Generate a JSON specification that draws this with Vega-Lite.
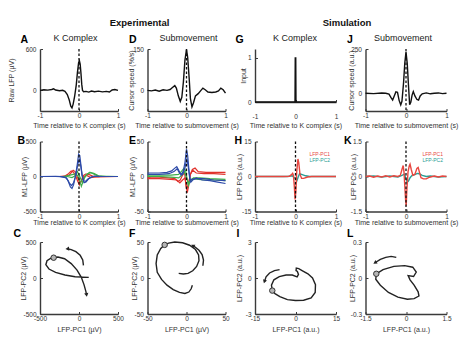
{
"$schema": "https://vega.github.io/schema/vega-lite/v6.json",
"padding": {"left": 7, "top": 17, "right": 4, "bottom": 4},
"background": "white",
"columns": 4,
"spacing": {"row": 30.5, "column": 29.5},
"bounds": "flush",
"align": "each",
"resolve": {"scale": {"color": "independent"}},
"config": {
  "font": "Liberation Sans",
  "view": {"stroke": null},
  "axis": {"grid": false, "domainColor": "#3a3a3a", "domainWidth": 1.4, "tickColor": "#3a3a3a", "tickWidth": 1, "tickSize": -2.5, "labelFont": "Liberation Sans", "labelFontSize": 6.5, "labelColor": "#333", "titleFont": "Liberation Sans", "titleFontSize": 7, "titleFontWeight": "normal", "titleColor": "#333", "labelExpr": "'' + datum.value", "labelOverlap": false, "labelFlush": false},
  "axisLeft": {"labelPadding": 6.5, "minExtent": 8, "maxExtent": 8},
  "axisBottom": {"labelPadding": 4, "titlePadding": 2},
  "axisTop": {"domain": false, "ticks": false, "labels": false, "titleFontSize": 10.5, "titleFontWeight": "bold", "titleColor": "#000", "titleAlign": "left", "titleBaseline": "alphabetic", "titleAngle": 0},
  "axisRight": {"domain": false, "ticks": false, "labels": false, "titleFontSize": 9, "titleFontWeight": "normal", "titleColor": "#222", "titleAngle": 0, "titleAlign": "center", "titleBaseline": "alphabetic"},
  "title": {"font": "Liberation Sans", "fontSize": 9.5, "fontWeight": "bold", "color": "#111"}
},
"datasets": {
  "zero": [{"t": 0}],
  "A": [{"t":-1,"v":0},{"t":-0.9,"v":8},{"t":-0.8,"v":3},{"t":-0.7,"v":12},{"t":-0.65,"v":22},{"t":-0.6,"v":5},{"t":-0.5,"v":-5},{"t":-0.42,"v":0},{"t":-0.36,"v":-15},{"t":-0.3,"v":-60},{"t":-0.25,"v":-140},{"t":-0.21,"v":-230},{"t":-0.18,"v":-255},{"t":-0.15,"v":-200},{"t":-0.11,"v":-80},{"t":-0.07,"v":80},{"t":-0.04,"v":260},{"t":-0.01,"v":400},{"t":0.01,"v":430},{"t":0.03,"v":380},{"t":0.05,"v":250},{"t":0.07,"v":90},{"t":0.09,"v":0},{"t":0.12,"v":-20},{"t":0.18,"v":-15},{"t":0.25,"v":-25},{"t":0.32,"v":-10},{"t":0.4,"v":-20},{"t":0.5,"v":-12},{"t":0.6,"v":-22},{"t":0.7,"v":-15},{"t":0.78,"v":-25},{"t":0.85,"v":5},{"t":0.92,"v":12},{"t":1,"v":0}],
  "D": [{"t":-1,"v":0},{"t":-0.9,"v":-2},{"t":-0.8,"v":1},{"t":-0.7,"v":-3},{"t":-0.6,"v":2},{"t":-0.5,"v":0},{"t":-0.42,"v":3},{"t":-0.36,"v":10},{"t":-0.3,"v":17},{"t":-0.26,"v":8},{"t":-0.21,"v":-20},{"t":-0.16,"v":-40},{"t":-0.12,"v":-25},{"t":-0.08,"v":30},{"t":-0.04,"v":110},{"t":0,"v":148},{"t":0.03,"v":120},{"t":0.07,"v":40},{"t":0.1,"v":-30},{"t":0.14,"v":-60},{"t":0.18,"v":-45},{"t":0.23,"v":-20},{"t":0.3,"v":-12},{"t":0.36,"v":-2},{"t":0.42,"v":8},{"t":0.48,"v":2},{"t":0.55,"v":-6},{"t":0.65,"v":-8},{"t":0.75,"v":-6},{"t":0.82,"v":-2},{"t":0.88,"v":8},{"t":0.94,"v":2},{"t":1,"v":-10}],
  "G": [{"t":-1,"v":0},{"t":-0.012,"v":0},{"t":-0.006,"v":1},{"t":0.006,"v":1},{"t":0.012,"v":0},{"t":1,"v":0}],
  "J": [{"t":-1,"v":0},{"t":-0.8,"v":-2},{"t":-0.6,"v":2},{"t":-0.5,"v":0},{"t":-0.42,"v":-5},{"t":-0.37,"v":-25},{"t":-0.33,"v":-38},{"t":-0.29,"v":-15},{"t":-0.25,"v":8},{"t":-0.21,"v":5},{"t":-0.17,"v":-40},{"t":-0.13,"v":-65},{"t":-0.1,"v":-45},{"t":-0.06,"v":60},{"t":-0.03,"v":170},{"t":0,"v":232},{"t":0.03,"v":170},{"t":0.06,"v":50},{"t":0.09,"v":-65},{"t":0.12,"v":-50},{"t":0.15,"v":-10},{"t":0.18,"v":10},{"t":0.22,"v":-15},{"t":0.27,"v":-35},{"t":0.31,"v":-38},{"t":0.35,"v":-15},{"t":0.4,"v":-3},{"t":0.5,"v":2},{"t":0.6,"v":-3},{"t":0.7,"v":0},{"t":0.8,"v":2},{"t":0.9,"v":-2},{"t":1,"v":0}],
  "B": [
    {"s":"r1","g":"ch2","t":-1,"v":0},{"s":"r1","g":"ch2","t":-0.5,"v":0},{"s":"r1","g":"ch2","t":-0.35,"v":10},{"s":"r1","g":"ch2","t":-0.27,"v":40},{"s":"r1","g":"ch2","t":-0.2,"v":80},{"s":"r1","g":"ch2","t":-0.14,"v":60},{"s":"r1","g":"ch2","t":-0.08,"v":0},{"s":"r1","g":"ch2","t":-0.03,"v":-70},{"s":"r1","g":"ch2","t":0.01,"v":-120},{"s":"r1","g":"ch2","t":0.05,"v":-80},{"s":"r1","g":"ch2","t":0.1,"v":10},{"s":"r1","g":"ch2","t":0.17,"v":35},{"s":"r1","g":"ch2","t":0.25,"v":30},{"s":"r1","g":"ch2","t":0.35,"v":5},{"s":"r1","g":"ch2","t":0.5,"v":-5},{"s":"r1","g":"ch2","t":1,"v":0},
    {"s":"r2","g":"ch2","t":-1,"v":0},{"s":"r2","g":"ch2","t":-0.4,"v":0},{"s":"r2","g":"ch2","t":-0.25,"v":20},{"s":"r2","g":"ch2","t":-0.15,"v":90},{"s":"r2","g":"ch2","t":-0.1,"v":70},{"s":"r2","g":"ch2","t":-0.04,"v":-10},{"s":"r2","g":"ch2","t":0.02,"v":-90},{"s":"r2","g":"ch2","t":0.07,"v":-60},{"s":"r2","g":"ch2","t":0.12,"v":0},{"s":"r2","g":"ch2","t":0.2,"v":15},{"s":"r2","g":"ch2","t":0.3,"v":-15},{"s":"r2","g":"ch2","t":0.4,"v":-10},{"s":"r2","g":"ch2","t":0.55,"v":0},{"s":"r2","g":"ch2","t":1,"v":0},
    {"s":"g1","g":"ch3","t":-1,"v":0},{"s":"g1","g":"ch3","t":-0.4,"v":0},{"s":"g1","g":"ch3","t":-0.25,"v":15},{"s":"g1","g":"ch3","t":-0.15,"v":30},{"s":"g1","g":"ch3","t":-0.08,"v":40},{"s":"g1","g":"ch3","t":-0.03,"v":10},{"s":"g1","g":"ch3","t":0.02,"v":-60},{"s":"g1","g":"ch3","t":0.06,"v":-140},{"s":"g1","g":"ch3","t":0.1,"v":-80},{"s":"g1","g":"ch3","t":0.15,"v":0},{"s":"g1","g":"ch3","t":0.22,"v":40},{"s":"g1","g":"ch3","t":0.3,"v":55},{"s":"g1","g":"ch3","t":0.38,"v":45},{"s":"g1","g":"ch3","t":0.5,"v":10},{"s":"g1","g":"ch3","t":0.7,"v":0},{"s":"g1","g":"ch3","t":1,"v":0},
    {"s":"g2","g":"ch3","t":-1,"v":0},{"s":"g2","g":"ch3","t":-0.3,"v":0},{"s":"g2","g":"ch3","t":-0.18,"v":-15},{"s":"g2","g":"ch3","t":-0.1,"v":10},{"s":"g2","g":"ch3","t":-0.04,"v":70},{"s":"g2","g":"ch3","t":0,"v":20},{"s":"g2","g":"ch3","t":0.05,"v":-40},{"s":"g2","g":"ch3","t":0.09,"v":-90},{"s":"g2","g":"ch3","t":0.14,"v":-20},{"s":"g2","g":"ch3","t":0.2,"v":30},{"s":"g2","g":"ch3","t":0.28,"v":60},{"s":"g2","g":"ch3","t":0.36,"v":40},{"s":"g2","g":"ch3","t":0.5,"v":5},{"s":"g2","g":"ch3","t":1,"v":0},
    {"s":"b1","g":"ch1","t":-1,"v":0},{"s":"b1","g":"ch1","t":-0.6,"v":2},{"s":"b1","g":"ch1","t":-0.45,"v":-2},{"s":"b1","g":"ch1","t":-0.35,"v":-10},{"s":"b1","g":"ch1","t":-0.28,"v":-60},{"s":"b1","g":"ch1","t":-0.22,"v":-150},{"s":"b1","g":"ch1","t":-0.18,"v":-172},{"s":"b1","g":"ch1","t":-0.14,"v":-120},{"s":"b1","g":"ch1","t":-0.1,"v":-20},{"s":"b1","g":"ch1","t":-0.05,"v":150},{"s":"b1","g":"ch1","t":-0.01,"v":320},{"s":"b1","g":"ch1","t":0.02,"v":300},{"s":"b1","g":"ch1","t":0.05,"v":160},{"s":"b1","g":"ch1","t":0.08,"v":20},{"s":"b1","g":"ch1","t":0.12,"v":-60},{"s":"b1","g":"ch1","t":0.17,"v":-70},{"s":"b1","g":"ch1","t":0.22,"v":-40},{"s":"b1","g":"ch1","t":0.3,"v":-10},{"s":"b1","g":"ch1","t":0.4,"v":5},{"s":"b1","g":"ch1","t":0.6,"v":0},{"s":"b1","g":"ch1","t":1,"v":0},
    {"s":"b2","g":"ch1","t":-1,"v":0},{"s":"b2","g":"ch1","t":-0.5,"v":0},{"s":"b2","g":"ch1","t":-0.32,"v":-20},{"s":"b2","g":"ch1","t":-0.25,"v":-90},{"s":"b2","g":"ch1","t":-0.19,"v":-130},{"s":"b2","g":"ch1","t":-0.14,"v":-90},{"s":"b2","g":"ch1","t":-0.08,"v":20},{"s":"b2","g":"ch1","t":-0.03,"v":180},{"s":"b2","g":"ch1","t":0.01,"v":240},{"s":"b2","g":"ch1","t":0.04,"v":170},{"s":"b2","g":"ch1","t":0.08,"v":10},{"s":"b2","g":"ch1","t":0.13,"v":-90},{"s":"b2","g":"ch1","t":0.18,"v":-80},{"s":"b2","g":"ch1","t":0.25,"v":-30},{"s":"b2","g":"ch1","t":0.35,"v":0},{"s":"b2","g":"ch1","t":1,"v":0}
  ],
  "E": [
    {"s":"r1","g":"ch2","t":-1,"v":-1},{"s":"r1","g":"ch2","t":-0.7,"v":-1},{"s":"r1","g":"ch2","t":-0.45,"v":-2},{"s":"r1","g":"ch2","t":-0.3,"v":-3},{"s":"r1","g":"ch2","t":-0.22,"v":-7},{"s":"r1","g":"ch2","t":-0.16,"v":-5},{"s":"r1","g":"ch2","t":-0.1,"v":2},{"s":"r1","g":"ch2","t":-0.05,"v":6},{"s":"r1","g":"ch2","t":-0.01,"v":-15},{"s":"r1","g":"ch2","t":0.02,"v":-23},{"s":"r1","g":"ch2","t":0.05,"v":-15},{"s":"r1","g":"ch2","t":0.09,"v":2},{"s":"r1","g":"ch2","t":0.15,"v":10},{"s":"r1","g":"ch2","t":0.22,"v":12},{"s":"r1","g":"ch2","t":0.3,"v":7},{"s":"r1","g":"ch2","t":0.5,"v":6},{"s":"r1","g":"ch2","t":0.75,"v":6},{"s":"r1","g":"ch2","t":1,"v":6},
    {"s":"r2","g":"ch2","t":-1,"v":-3},{"s":"r2","g":"ch2","t":-0.7,"v":-3},{"s":"r2","g":"ch2","t":-0.4,"v":-4},{"s":"r2","g":"ch2","t":-0.25,"v":-5},{"s":"r2","g":"ch2","t":-0.17,"v":-9},{"s":"r2","g":"ch2","t":-0.1,"v":-5},{"s":"r2","g":"ch2","t":-0.04,"v":-2},{"s":"r2","g":"ch2","t":0.01,"v":-18},{"s":"r2","g":"ch2","t":0.05,"v":-10},{"s":"r2","g":"ch2","t":0.1,"v":3},{"s":"r2","g":"ch2","t":0.16,"v":9},{"s":"r2","g":"ch2","t":0.25,"v":5},{"s":"r2","g":"ch2","t":0.45,"v":4},{"s":"r2","g":"ch2","t":0.7,"v":4},{"s":"r2","g":"ch2","t":1,"v":3},
    {"s":"g1","g":"ch3","t":-1,"v":2},{"s":"g1","g":"ch3","t":-0.7,"v":2},{"s":"g1","g":"ch3","t":-0.4,"v":2},{"s":"g1","g":"ch3","t":-0.2,"v":3},{"s":"g1","g":"ch3","t":-0.12,"v":8},{"s":"g1","g":"ch3","t":-0.06,"v":12},{"s":"g1","g":"ch3","t":-0.02,"v":8},{"s":"g1","g":"ch3","t":0.02,"v":-5},{"s":"g1","g":"ch3","t":0.05,"v":-13},{"s":"g1","g":"ch3","t":0.09,"v":-7},{"s":"g1","g":"ch3","t":0.15,"v":-3},{"s":"g1","g":"ch3","t":0.3,"v":-4},{"s":"g1","g":"ch3","t":0.5,"v":-5},{"s":"g1","g":"ch3","t":0.75,"v":-5},{"s":"g1","g":"ch3","t":1,"v":-6},
    {"s":"g2","g":"ch3","t":-1,"v":0},{"s":"g2","g":"ch3","t":-0.7,"v":0},{"s":"g2","g":"ch3","t":-0.4,"v":-1},{"s":"g2","g":"ch3","t":-0.2,"v":-2},{"s":"g2","g":"ch3","t":-0.1,"v":3},{"s":"g2","g":"ch3","t":-0.05,"v":7},{"s":"g2","g":"ch3","t":0,"v":-2},{"s":"g2","g":"ch3","t":0.05,"v":-9},{"s":"g2","g":"ch3","t":0.1,"v":-6},{"s":"g2","g":"ch3","t":0.18,"v":-2},{"s":"g2","g":"ch3","t":0.35,"v":-2},{"s":"g2","g":"ch3","t":0.6,"v":-3},{"s":"g2","g":"ch3","t":1,"v":-4},
    {"s":"b1","g":"ch1","t":-1,"v":5},{"s":"b1","g":"ch1","t":-0.7,"v":5},{"s":"b1","g":"ch1","t":-0.5,"v":6},{"s":"b1","g":"ch1","t":-0.38,"v":8},{"s":"b1","g":"ch1","t":-0.3,"v":12},{"s":"b1","g":"ch1","t":-0.25,"v":14},{"s":"b1","g":"ch1","t":-0.2,"v":9},{"s":"b1","g":"ch1","t":-0.14,"v":2},{"s":"b1","g":"ch1","t":-0.08,"v":8},{"s":"b1","g":"ch1","t":-0.04,"v":20},{"s":"b1","g":"ch1","t":0,"v":39},{"s":"b1","g":"ch1","t":0.03,"v":30},{"s":"b1","g":"ch1","t":0.07,"v":5},{"s":"b1","g":"ch1","t":0.11,"v":-8},{"s":"b1","g":"ch1","t":0.16,"v":-5},{"s":"b1","g":"ch1","t":0.25,"v":-2},{"s":"b1","g":"ch1","t":0.4,"v":-5},{"s":"b1","g":"ch1","t":0.6,"v":-6},{"s":"b1","g":"ch1","t":0.8,"v":-8},{"s":"b1","g":"ch1","t":1,"v":-10},
    {"s":"b2","g":"ch1","t":-1,"v":3},{"s":"b2","g":"ch1","t":-0.7,"v":3},{"s":"b2","g":"ch1","t":-0.45,"v":4},{"s":"b2","g":"ch1","t":-0.32,"v":7},{"s":"b2","g":"ch1","t":-0.24,"v":11},{"s":"b2","g":"ch1","t":-0.18,"v":5},{"s":"b2","g":"ch1","t":-0.1,"v":3},{"s":"b2","g":"ch1","t":-0.04,"v":12},{"s":"b2","g":"ch1","t":0.01,"v":26},{"s":"b2","g":"ch1","t":0.05,"v":12},{"s":"b2","g":"ch1","t":0.09,"v":-6},{"s":"b2","g":"ch1","t":0.14,"v":-4},{"s":"b2","g":"ch1","t":0.25,"v":-3},{"s":"b2","g":"ch1","t":0.45,"v":-3},{"s":"b2","g":"ch1","t":0.7,"v":-5},{"s":"b2","g":"ch1","t":1,"v":-6}
  ],
  "H": [
    {"s":"LFP-PC2","t":-1,"v":0},{"s":"LFP-PC2","t":-0.2,"v":0},{"s":"LFP-PC2","t":-0.08,"v":0.3},{"s":"LFP-PC2","t":-0.03,"v":-0.5},{"s":"LFP-PC2","t":0.01,"v":-1},{"s":"LFP-PC2","t":0.03,"v":-2},{"s":"LFP-PC2","t":0.06,"v":-0.5},{"s":"LFP-PC2","t":0.1,"v":1.2},{"s":"LFP-PC2","t":0.15,"v":0.9},{"s":"LFP-PC2","t":0.25,"v":0.3},{"s":"LFP-PC2","t":0.35,"v":0},{"s":"LFP-PC2","t":1,"v":0},
    {"s":"LFP-PC1","t":-1,"v":0},{"s":"LFP-PC1","t":-0.3,"v":0},{"s":"LFP-PC1","t":-0.15,"v":0.1},{"s":"LFP-PC1","t":-0.1,"v":0.8},{"s":"LFP-PC1","t":-0.07,"v":1.4},{"s":"LFP-PC1","t":-0.05,"v":0.5},{"s":"LFP-PC1","t":-0.03,"v":-4},{"s":"LFP-PC1","t":-0.01,"v":-9.8},{"s":"LFP-PC1","t":0.01,"v":-6},{"s":"LFP-PC1","t":0.03,"v":2},{"s":"LFP-PC1","t":0.06,"v":7.5},{"s":"LFP-PC1","t":0.08,"v":6},{"s":"LFP-PC1","t":0.11,"v":1},{"s":"LFP-PC1","t":0.15,"v":-0.8},{"s":"LFP-PC1","t":0.2,"v":-0.8},{"s":"LFP-PC1","t":0.3,"v":-0.2},{"s":"LFP-PC1","t":0.4,"v":0},{"s":"LFP-PC1","t":1,"v":0}
  ],
  "Hleg": [{"s":"LFP-PC1","t":0.6,"v":9.5},{"s":"LFP-PC2","t":0.6,"v":7.2}],
  "K": [
    {"s":"LFP-PC2","t":-1,"v":0},{"s":"LFP-PC2","t":-0.8,"v":0.02},{"s":"LFP-PC2","t":-0.6,"v":-0.02},{"s":"LFP-PC2","t":-0.4,"v":0.02},{"s":"LFP-PC2","t":-0.2,"v":-0.02},{"s":"LFP-PC2","t":-0.1,"v":0.05},{"s":"LFP-PC2","t":-0.04,"v":0.1},{"s":"LFP-PC2","t":0,"v":-0.1},{"s":"LFP-PC2","t":0.03,"v":-0.25},{"s":"LFP-PC2","t":0.06,"v":-0.2},{"s":"LFP-PC2","t":0.1,"v":-0.05},{"s":"LFP-PC2","t":0.15,"v":0.05},{"s":"LFP-PC2","t":0.22,"v":0.08},{"s":"LFP-PC2","t":0.28,"v":0.13},{"s":"LFP-PC2","t":0.33,"v":0.12},{"s":"LFP-PC2","t":0.4,"v":0.05},{"s":"LFP-PC2","t":0.5,"v":0},{"s":"LFP-PC2","t":0.6,"v":0.02},{"s":"LFP-PC2","t":0.8,"v":-0.02},{"s":"LFP-PC2","t":1,"v":0},
    {"s":"LFP-PC1","t":-1,"v":0},{"s":"LFP-PC1","t":-0.9,"v":0.02},{"s":"LFP-PC1","t":-0.8,"v":-0.03},{"s":"LFP-PC1","t":-0.7,"v":0.02},{"s":"LFP-PC1","t":-0.6,"v":-0.02},{"s":"LFP-PC1","t":-0.5,"v":0.03},{"s":"LFP-PC1","t":-0.4,"v":-0.02},{"s":"LFP-PC1","t":-0.3,"v":0.03},{"s":"LFP-PC1","t":-0.2,"v":0},{"s":"LFP-PC1","t":-0.14,"v":0.05},{"s":"LFP-PC1","t":-0.1,"v":0.3},{"s":"LFP-PC1","t":-0.07,"v":0.47},{"s":"LFP-PC1","t":-0.05,"v":0.2},{"s":"LFP-PC1","t":-0.03,"v":-0.4},{"s":"LFP-PC1","t":-0.01,"v":-1.0},{"s":"LFP-PC1","t":0.005,"v":-1.25},{"s":"LFP-PC1","t":0.02,"v":-0.6},{"s":"LFP-PC1","t":0.05,"v":0.2},{"s":"LFP-PC1","t":0.08,"v":0.45},{"s":"LFP-PC1","t":0.1,"v":0.53},{"s":"LFP-PC1","t":0.13,"v":0.3},{"s":"LFP-PC1","t":0.17,"v":0.05},{"s":"LFP-PC1","t":0.22,"v":0.1},{"s":"LFP-PC1","t":0.27,"v":0.35},{"s":"LFP-PC1","t":0.3,"v":0.39},{"s":"LFP-PC1","t":0.33,"v":0.2},{"s":"LFP-PC1","t":0.37,"v":-0.05},{"s":"LFP-PC1","t":0.43,"v":-0.1},{"s":"LFP-PC1","t":0.5,"v":-0.1},{"s":"LFP-PC1","t":0.58,"v":-0.03},{"s":"LFP-PC1","t":0.7,"v":0.02},{"s":"LFP-PC1","t":0.8,"v":-0.02},{"s":"LFP-PC1","t":0.9,"v":0.02},{"s":"LFP-PC1","t":1,"v":0}
  ],
  "Kleg": [{"s":"LFP-PC1","t":0.66,"v":0.95},{"s":"LFP-PC2","t":0.66,"v":0.72}],
  "C": [{"o":1,"x":125,"y":8},{"o":2,"x":40,"y":12},{"o":3,"x":-50,"y":18},{"o":4,"x":-180,"y":42},{"o":5,"x":-300,"y":78},{"o":6,"x":-385,"y":125},{"o":7,"x":-425,"y":185},{"o":8,"x":-410,"y":240},{"o":9,"x":-365,"y":272},{"o":10,"x":-325,"y":282,"m":1},{"o":11,"x":-270,"y":292},{"o":12,"x":-185,"y":268},{"o":13,"x":-100,"y":200},{"o":14,"x":-25,"y":110},{"o":15,"x":30,"y":10},{"o":16,"x":65,"y":-95},{"o":17,"x":88,"y":-185},{"o":18,"x":97,"y":-235,"h":1}],
  "Ca": [{"o":1,"x":57,"y":175},{"o":2,"x":48,"y":250},{"o":3,"x":15,"y":315},{"o":4,"x":-40,"y":365},{"o":5,"x":-100,"y":395},{"o":6,"x":-150,"y":406,"h":1}],
  "F": [{"o":1,"x":-10,"y":6.5},{"o":2,"x":-4,"y":5.5},{"o":3,"x":2,"y":6.5},{"o":4,"x":8,"y":10},{"o":5,"x":13,"y":16},{"o":6,"x":16,"y":24},{"o":7,"x":15.5,"y":32},{"o":8,"x":11.5,"y":39.5},{"o":9,"x":4,"y":45.5},{"o":10,"x":-5,"y":49},{"o":11,"x":-15,"y":50},{"o":12,"x":-23,"y":48.5},{"o":13,"x":-28,"y":46,"m":1},{"o":14,"x":-33,"y":41},{"o":15,"x":-37.5,"y":32},{"o":16,"x":-39,"y":20},{"o":17,"x":-37.5,"y":8},{"o":18,"x":-32,"y":-2},{"o":19,"x":-25,"y":-10},{"o":20,"x":-17,"y":-16},{"o":21,"x":-9,"y":-20},{"o":22,"x":-2,"y":-21.5},{"o":23,"x":3,"y":-19.5},{"o":24,"x":6,"y":-15},{"o":25,"x":7.5,"y":-10}],
  "Fa": [{"o":1,"x":21,"y":17},{"o":2,"x":21.8,"y":25},{"o":3,"x":20,"y":32.5},{"o":4,"x":16,"y":38.5},{"o":5,"x":11,"y":43},{"o":6,"x":8,"y":45,"h":1}],
  "I": [{"o":1,"x":-8.6,"y":-1.05,"m":1},{"o":2,"x":-8.9,"y":-0.6},{"o":3,"x":-8,"y":-0.15},{"o":4,"x":-6,"y":0.12},{"o":5,"x":-3.5,"y":0.25},{"o":6,"x":-1.2,"y":0.25},{"o":7,"x":0.6,"y":0.1},{"o":8,"x":1.1,"y":0.3},{"o":9,"x":0.7,"y":0.55},{"o":10,"x":0.2,"y":0.62},{"o":11,"x":0.3,"y":0.82},{"o":12,"x":1.2,"y":0.78},{"o":13,"x":2.6,"y":0.6},{"o":14,"x":4.6,"y":0.35},{"o":15,"x":6.3,"y":0},{"o":16,"x":7.4,"y":-0.55},{"o":17,"x":7.3,"y":-1.2},{"o":18,"x":5.8,"y":-1.65},{"o":19,"x":3,"y":-1.85},{"o":20,"x":0,"y":-1.88},{"o":21,"x":-3,"y":-1.8},{"o":22,"x":-5.8,"y":-1.55},{"o":23,"x":-7.6,"y":-1.3},{"o":24,"x":-8.3,"y":-1.15}],
  "Ia": [{"o":1,"x":-5.9,"y":0.7},{"o":2,"x":-7.8,"y":0.62},{"o":3,"x":-9.6,"y":0.42},{"o":4,"x":-10.9,"y":0.1},{"o":5,"x":-11.5,"y":-0.3,"h":1}],
  "L": [{"o":1,"x":-1.1,"y":0.035,"m":1},{"o":2,"x":-0.85,"y":0.07},{"o":3,"x":-0.45,"y":0.097},{"o":4,"x":-0.05,"y":0.103},{"o":5,"x":0.25,"y":0.09},{"o":6,"x":0.38,"y":0.05},{"o":7,"x":0.28,"y":0.012},{"o":8,"x":0.08,"y":0.02},{"o":9,"x":0.15,"y":-0.015},{"o":10,"x":0.3,"y":-0.06},{"o":11,"x":0.45,"y":-0.115},{"o":12,"x":0.48,"y":-0.15},{"o":13,"x":0.3,"y":-0.172},{"o":14,"x":0.05,"y":-0.177},{"o":15,"x":-0.3,"y":-0.16},{"o":16,"x":-0.65,"y":-0.12},{"o":17,"x":-0.95,"y":-0.06},{"o":18,"x":-1.12,"y":-0.01},{"o":19,"x":-1.1,"y":0.03}],
  "La": [{"o":1,"x":-0.36,"y":0.172},{"o":2,"x":-0.55,"y":0.18},{"o":3,"x":-0.75,"y":0.172},{"o":4,"x":-0.95,"y":0.155},{"o":5,"x":-1.15,"y":0.127,"h":1}]
},
"concat": [
  {
    "width": 78, "height": 62,
    "title": {"text": "Experimental", "anchor": "end", "frame": "group", "align": "center", "dx": 21.5, "offset": -2, "baseline": "alphabetic"},
    "data": {"name": "A"},
    "layer": [
      {"mark": {"type": "line", "color": "#111", "strokeWidth": 1.4},
       "encoding": {
         "x": {"field": "t", "type": "quantitative", "scale": {"domain": [-1, 1], "nice": false}, "axis": {"values": [-1, 0, 1], "title": "Time relative to K complex (s)"}},
         "y": {"field": "v", "type": "quantitative", "scale": {"domain": [-300, 600], "nice": false}, "axis": {"values": [0, 600], "title": "Raw LFP (µV)", "titlePadding": 18}}}},
      {"mark": {"type": "point", "opacity": 0},
       "encoding": {
         "x": {"field": "t", "type": "quantitative", "axis": {"orient": "top", "title": "A", "titleX": -20, "titleY": -7}},
         "y": {"field": "v", "type": "quantitative", "axis": {"orient": "right", "title": "K Complex", "titleX": -43, "titleY": -9}}}},
      {"data": {"name": "zero"}, "mark": {"type": "rule", "color": "#111", "strokeWidth": 1.3, "strokeDash": [2.5, 2]},
       "encoding": {"x": {"field": "t", "type": "quantitative", "axis": null}}}
    ],
    "resolve": {"axis": {"x": "independent", "y": "independent"}}
  },
  {
    "width": 78, "height": 62,
    "data": {"name": "D"},
    "layer": [
      {"mark": {"type": "line", "color": "#111", "strokeWidth": 1.4},
       "encoding": {
         "x": {"field": "t", "type": "quantitative", "scale": {"domain": [-1, 1], "nice": false}, "axis": {"values": [-1, 0, 1], "title": "Time relative to submovement (s)"}},
         "y": {"field": "v", "type": "quantitative", "scale": {"domain": [-75, 150], "nice": false}, "axis": {"values": [0, 150], "title": "Cursor speed (%/s)", "titlePadding": 5}}}},
      {"mark": {"type": "point", "opacity": 0},
       "encoding": {
         "x": {"field": "t", "type": "quantitative", "axis": {"orient": "top", "title": "D", "titleX": -19, "titleY": -7}},
         "y": {"field": "v", "type": "quantitative", "axis": {"orient": "right", "title": "Submovement", "titleX": -37.5, "titleY": -9}}}},
      {"data": {"name": "zero"}, "mark": {"type": "rule", "color": "#111", "strokeWidth": 1.3, "strokeDash": [2.5, 2]},
       "encoding": {"x": {"field": "t", "type": "quantitative", "axis": null}}}
    ],
    "resolve": {"axis": {"x": "independent", "y": "independent"}}
  },
  {
    "width": 81, "height": 53,
    "title": {"text": "Simulation", "anchor": "end", "frame": "group", "align": "center", "dx": 11, "offset": -2, "baseline": "alphabetic"},
    "data": {"name": "G"},
    "layer": [
      {"mark": {"type": "line", "color": "#111", "strokeWidth": 1.4},
       "encoding": {
         "x": {"field": "t", "type": "quantitative", "scale": {"domain": [-1, 1], "nice": false}, "axis": {"values": [-1, 0, 1], "title": "Time relative to K complex (s)", "labelPadding": 14, "titlePadding": 1}},
         "y": {"field": "v", "type": "quantitative", "scale": {"domain": [0, 1.2], "nice": false}, "axis": {"values": [0, 1], "title": "Input", "titlePadding": 1}}}},
      {"mark": {"type": "point", "opacity": 0},
       "encoding": {
         "x": {"field": "t", "type": "quantitative", "axis": {"orient": "top", "title": "G", "titleX": -20, "titleY": -7}},
         "y": {"field": "v", "type": "quantitative", "axis": {"orient": "right", "title": "K Complex", "titleX": -41.5, "titleY": -9}}}}
    ],
    "resolve": {"axis": {"x": "independent", "y": "independent"}}
  },
  {
    "width": 81, "height": 62,
    "data": {"name": "J"},
    "layer": [
      {"mark": {"type": "line", "color": "#111", "strokeWidth": 1.4},
       "encoding": {
         "x": {"field": "t", "type": "quantitative", "scale": {"domain": [-1, 1], "nice": false}, "axis": {"values": [-1, 0, 1], "title": "Time relative to submovement (s)"}},
         "y": {"field": "v", "type": "quantitative", "scale": {"domain": [-100, 250], "nice": false}, "axis": {"values": [0, 250], "title": "Cursor speed (a.u.)", "titlePadding": 3}}}},
      {"mark": {"type": "point", "opacity": 0},
       "encoding": {
         "x": {"field": "t", "type": "quantitative", "axis": {"orient": "top", "title": "J", "titleX": -19, "titleY": -7}},
         "y": {"field": "v", "type": "quantitative", "axis": {"orient": "right", "title": "Submovement", "titleX": -44, "titleY": -9}}}},
      {"data": {"name": "zero"}, "mark": {"type": "rule", "color": "#111", "strokeWidth": 1.3, "strokeDash": [2.5, 2]},
       "encoding": {"x": {"field": "t", "type": "quantitative", "axis": null}}}
    ],
    "resolve": {"axis": {"x": "independent", "y": "independent"}}
  },
  {
    "width": 78, "height": 70,
    "data": {"name": "B"},
    "layer": [
      {"mark": {"type": "line", "strokeWidth": 1.2},
       "encoding": {
         "x": {"field": "t", "type": "quantitative", "scale": {"domain": [-1, 1], "nice": false}, "axis": {"values": [-1, 0, 1], "title": "Time relative to K complex (s)", "titlePadding": -1.5}},
         "y": {"field": "v", "type": "quantitative", "scale": {"domain": [-500, 500], "nice": false}, "axis": {"values": [-500, 0, 500], "title": "M1-LFP (µV)", "titlePadding": 4.5}},
         "detail": {"field": "s"},
         "color": {"field": "g", "type": "nominal", "scale": {"domain": ["ch1", "ch2", "ch3"], "range": ["#2d4aa8", "#e0322c", "#3fae4a"]}, "legend": null}}},
      {"mark": {"type": "point", "opacity": 0},
       "encoding": {
         "x": {"field": "t", "type": "quantitative", "axis": {"orient": "top", "title": "B", "titleX": -23, "titleY": 2}},
         "y": {"field": "v", "type": "quantitative", "axis": null}}},
      {"data": {"name": "zero"}, "mark": {"type": "rule", "color": "#111", "strokeWidth": 1.3, "strokeDash": [2.5, 2]},
       "encoding": {"x": {"field": "t", "type": "quantitative", "axis": null}}}
    ],
    "resolve": {"axis": {"x": "independent", "y": "independent"}}
  },
  {
    "width": 78, "height": 70,
    "data": {"name": "E"},
    "layer": [
      {"mark": {"type": "line", "strokeWidth": 1.2},
       "encoding": {
         "x": {"field": "t", "type": "quantitative", "scale": {"domain": [-1, 1], "nice": false}, "axis": {"values": [-1, 0, 1], "title": "Time relative to submovement (s)", "titlePadding": -1.5}},
         "y": {"field": "v", "type": "quantitative", "scale": {"domain": [-50, 50], "nice": false}, "axis": {"values": [-50, 0, 50], "title": "M1-LFP (µV)", "titlePadding": 4.5}},
         "detail": {"field": "s"},
         "color": {"field": "g", "type": "nominal", "scale": {"domain": ["ch1", "ch2", "ch3"], "range": ["#2d4aa8", "#e0322c", "#3fae4a"]}, "legend": null}}},
      {"mark": {"type": "point", "opacity": 0},
       "encoding": {
         "x": {"field": "t", "type": "quantitative", "axis": {"orient": "top", "title": "E", "titleX": -19, "titleY": 2}},
         "y": {"field": "v", "type": "quantitative", "axis": null}}},
      {"data": {"name": "zero"}, "mark": {"type": "rule", "color": "#111", "strokeWidth": 1.3, "strokeDash": [2.5, 2]},
       "encoding": {"x": {"field": "t", "type": "quantitative", "axis": null}}}
    ],
    "resolve": {"axis": {"x": "independent", "y": "independent"}}
  },
  {
    "width": 81, "height": 70,
    "data": {"name": "H"},
    "layer": [
      {"mark": {"type": "line", "strokeWidth": 1.4},
       "encoding": {
         "x": {"field": "t", "type": "quantitative", "scale": {"domain": [-1, 1], "nice": false}, "axis": {"values": [-1, 0, 1], "title": "Time relative to K complex (s)", "titlePadding": -1.5}},
         "y": {"field": "v", "type": "quantitative", "scale": {"domain": [-15, 15], "nice": false}, "axis": {"values": [-15, 0, 15], "title": "LFP PCs (a.u.)", "titlePadding": 5}},
         "color": {"field": "s", "type": "nominal", "scale": {"domain": ["LFP-PC1", "LFP-PC2"], "range": ["#e8463f", "#2a9d94"]}, "legend": null}}},
      {"mark": {"type": "point", "opacity": 0},
       "encoding": {
         "x": {"field": "t", "type": "quantitative", "axis": {"orient": "top", "title": "H", "titleX": -21, "titleY": 2}},
         "y": {"field": "v", "type": "quantitative", "axis": null}}},
      {"data": {"name": "Hleg"}, "mark": {"type": "text", "fontSize": 5, "font": "Liberation Sans"},
       "encoding": {
         "x": {"field": "t", "type": "quantitative", "axis": null},
         "y": {"field": "v", "type": "quantitative", "axis": null},
         "text": {"field": "s"},
         "color": {"field": "s", "type": "nominal", "legend": null}}},
      {"data": {"name": "zero"}, "mark": {"type": "rule", "color": "#111", "strokeWidth": 1.3, "strokeDash": [2.5, 2]},
       "encoding": {"x": {"field": "t", "type": "quantitative", "axis": null}}}
    ],
    "resolve": {"axis": {"x": "independent", "y": "independent"}}
  },
  {
    "width": 81, "height": 70,
    "data": {"name": "K"},
    "layer": [
      {"mark": {"type": "line", "strokeWidth": 1.4},
       "encoding": {
         "x": {"field": "t", "type": "quantitative", "scale": {"domain": [-1, 1], "nice": false}, "axis": {"values": [-1, 0, 1], "title": "Time relative to submovement (s)", "titlePadding": -1.5}},
         "y": {"field": "v", "type": "quantitative", "scale": {"domain": [-1.5, 1.5], "nice": false}, "axis": {"values": [-1.5, 0, 1.5], "title": "LFP PCs (a.u.)", "titlePadding": 1.5}},
         "color": {"field": "s", "type": "nominal", "scale": {"domain": ["LFP-PC1", "LFP-PC2"], "range": ["#e8463f", "#2a9d94"]}, "legend": null}}},
      {"mark": {"type": "point", "opacity": 0},
       "encoding": {
         "x": {"field": "t", "type": "quantitative", "axis": {"orient": "top", "title": "K", "titleX": -22, "titleY": 2}},
         "y": {"field": "v", "type": "quantitative", "axis": null}}},
      {"data": {"name": "Kleg"}, "mark": {"type": "text", "fontSize": 5, "font": "Liberation Sans"},
       "encoding": {
         "x": {"field": "t", "type": "quantitative", "axis": null},
         "y": {"field": "v", "type": "quantitative", "axis": null},
         "text": {"field": "s"},
         "color": {"field": "s", "type": "nominal", "legend": null}}},
      {"data": {"name": "zero"}, "mark": {"type": "rule", "color": "#111", "strokeWidth": 1.3, "strokeDash": [2.5, 2]},
       "encoding": {"x": {"field": "t", "type": "quantitative", "axis": null}}}
    ],
    "resolve": {"axis": {"x": "independent", "y": "independent"}}
  },
  {
    "width": 78, "height": 72,
    "data": {"name": "C"},
    "layer": [
      {"mark": {"type": "line", "color": "#222", "strokeWidth": 1.4},
       "encoding": {
         "x": {"field": "x", "type": "quantitative", "scale": {"domain": [-500, 500], "nice": false}, "axis": {"values": [-500, 0, 500], "title": "LFP-PC1 (µV)", "titlePadding": 3}},
         "y": {"field": "y", "type": "quantitative", "scale": {"domain": [-500, 500], "nice": false}, "axis": {"values": [-500, 0, 500], "title": "LFP-PC2 (µV)", "titlePadding": 5.5}},
         "order": {"field": "o"}}},
      {"data": {"name": "Ca"}, "mark": {"type": "line", "color": "#222", "strokeWidth": 1.4},
       "encoding": {"x": {"field": "x", "type": "quantitative", "axis": null}, "y": {"field": "y", "type": "quantitative", "axis": null}, "order": {"field": "o"}}},
      {"transform": [{"filter": "datum.m == 1"}], "mark": {"type": "point", "filled": true, "fill": "#b5b5b5", "stroke": "#333", "strokeWidth": 1, "size": 30, "opacity": 1},
       "encoding": {"x": {"field": "x", "type": "quantitative", "axis": null}, "y": {"field": "y", "type": "quantitative", "axis": null}}},
      {"transform": [{"filter": "datum.h == 1"}], "mark": {"type": "point", "shape": "triangle-up", "filled": true, "color": "#222", "size": 18, "angle": 170, "opacity": 1},
       "encoding": {"x": {"field": "x", "type": "quantitative", "axis": null}, "y": {"field": "y", "type": "quantitative", "axis": null}}},
      {"data": {"name": "Ca"}, "transform": [{"filter": "datum.h == 1"}], "mark": {"type": "point", "shape": "triangle-up", "filled": true, "color": "#222", "size": 18, "angle": 265, "opacity": 1},
       "encoding": {"x": {"field": "x", "type": "quantitative", "axis": null}, "y": {"field": "y", "type": "quantitative", "axis": null}}},
      {"mark": {"type": "point", "opacity": 0},
       "encoding": {
         "x": {"field": "x", "type": "quantitative", "axis": {"orient": "top", "title": "C", "titleX": -27, "titleY": -6}},
         "y": {"field": "y", "type": "quantitative", "axis": null}}}
    ],
    "resolve": {"axis": {"x": "independent", "y": "independent"}}
  },
  {
    "width": 78, "height": 72,
    "data": {"name": "F"},
    "layer": [
      {"mark": {"type": "line", "color": "#222", "strokeWidth": 1.4},
       "encoding": {
         "x": {"field": "x", "type": "quantitative", "scale": {"domain": [-50, 50], "nice": false}, "axis": {"values": [-50, 0, 50], "title": "LFP-PC1 (µV)", "titlePadding": 3}},
         "y": {"field": "y", "type": "quantitative", "scale": {"domain": [-50, 50], "nice": false}, "axis": {"values": [-50, 0, 50], "title": "LFP-PC2 (µV)", "titlePadding": 2.5}},
         "order": {"field": "o"}}},
      {"data": {"name": "Fa"}, "mark": {"type": "line", "color": "#222", "strokeWidth": 1.4},
       "encoding": {"x": {"field": "x", "type": "quantitative", "axis": null}, "y": {"field": "y", "type": "quantitative", "axis": null}, "order": {"field": "o"}}},
      {"transform": [{"filter": "datum.m == 1"}], "mark": {"type": "point", "filled": true, "fill": "#b5b5b5", "stroke": "#333", "strokeWidth": 1, "size": 30, "opacity": 1},
       "encoding": {"x": {"field": "x", "type": "quantitative", "axis": null}, "y": {"field": "y", "type": "quantitative", "axis": null}}},
      {"data": {"name": "Fa"}, "transform": [{"filter": "datum.h == 1"}], "mark": {"type": "point", "shape": "triangle-up", "filled": true, "color": "#222", "size": 18, "angle": 302, "opacity": 1},
       "encoding": {"x": {"field": "x", "type": "quantitative", "axis": null}, "y": {"field": "y", "type": "quantitative", "axis": null}}},
      {"mark": {"type": "point", "opacity": 0},
       "encoding": {
         "x": {"field": "x", "type": "quantitative", "axis": {"orient": "top", "title": "F", "titleX": -19, "titleY": -6}},
         "y": {"field": "y", "type": "quantitative", "axis": null}}}
    ],
    "resolve": {"axis": {"x": "independent", "y": "independent"}}
  },
  {
    "width": 81, "height": 72,
    "data": {"name": "I"},
    "layer": [
      {"mark": {"type": "line", "color": "#222", "strokeWidth": 1.4},
       "encoding": {
         "x": {"field": "x", "type": "quantitative", "scale": {"domain": [-15, 15], "nice": false}, "axis": {"values": [-15, 0, 15], "title": "LFP-PC1 (a.u.)", "titlePadding": 3}},
         "y": {"field": "y", "type": "quantitative", "scale": {"domain": [-3, 3], "nice": false}, "axis": {"values": [-3, 0, 3], "title": "LFP-PC2 (a.u.)", "titlePadding": 4.5}},
         "order": {"field": "o"}}},
      {"data": {"name": "Ia"}, "mark": {"type": "line", "color": "#222", "strokeWidth": 1.4},
       "encoding": {"x": {"field": "x", "type": "quantitative", "axis": null}, "y": {"field": "y", "type": "quantitative", "axis": null}, "order": {"field": "o"}}},
      {"transform": [{"filter": "datum.m == 1"}], "mark": {"type": "point", "filled": true, "fill": "#b5b5b5", "stroke": "#333", "strokeWidth": 1, "size": 30, "opacity": 1},
       "encoding": {"x": {"field": "x", "type": "quantitative", "axis": null}, "y": {"field": "y", "type": "quantitative", "axis": null}}},
      {"data": {"name": "Ia"}, "transform": [{"filter": "datum.h == 1"}], "mark": {"type": "point", "shape": "triangle-up", "filled": true, "color": "#222", "size": 18, "angle": 198, "opacity": 1},
       "encoding": {"x": {"field": "x", "type": "quantitative", "axis": null}, "y": {"field": "y", "type": "quantitative", "axis": null}}},
      {"mark": {"type": "point", "opacity": 0},
       "encoding": {
         "x": {"field": "x", "type": "quantitative", "axis": {"orient": "top", "title": "I", "titleX": -19, "titleY": -6}},
         "y": {"field": "y", "type": "quantitative", "axis": null}}}
    ],
    "resolve": {"axis": {"x": "independent", "y": "independent"}}
  },
  {
    "width": 81, "height": 72,
    "data": {"name": "L"},
    "layer": [
      {"mark": {"type": "line", "color": "#222", "strokeWidth": 1.4},
       "encoding": {
         "x": {"field": "x", "type": "quantitative", "scale": {"domain": [-1.5, 1.5], "nice": false}, "axis": {"values": [-1.5, 0, 1.5], "title": "LFP-PC1 (a.u.)", "titlePadding": 3}},
         "y": {"field": "y", "type": "quantitative", "scale": {"domain": [-0.3, 0.3], "nice": false}, "axis": {"values": [-0.3, 0, 0.3], "title": "LFP-PC2 (a.u.)", "titlePadding": 2.5}},
         "order": {"field": "o"}}},
      {"data": {"name": "La"}, "mark": {"type": "line", "color": "#222", "strokeWidth": 1.4},
       "encoding": {"x": {"field": "x", "type": "quantitative", "axis": null}, "y": {"field": "y", "type": "quantitative", "axis": null}, "order": {"field": "o"}}},
      {"transform": [{"filter": "datum.m == 1"}], "mark": {"type": "point", "filled": true, "fill": "#b5b5b5", "stroke": "#333", "strokeWidth": 1, "size": 30, "opacity": 1},
       "encoding": {"x": {"field": "x", "type": "quantitative", "axis": null}, "y": {"field": "y", "type": "quantitative", "axis": null}}},
      {"data": {"name": "La"}, "transform": [{"filter": "datum.h == 1"}], "mark": {"type": "point", "shape": "triangle-up", "filled": true, "color": "#222", "size": 18, "angle": 238, "opacity": 1},
       "encoding": {"x": {"field": "x", "type": "quantitative", "axis": null}, "y": {"field": "y", "type": "quantitative", "axis": null}}},
      {"mark": {"type": "point", "opacity": 0},
       "encoding": {
         "x": {"field": "x", "type": "quantitative", "axis": {"orient": "top", "title": "L", "titleX": -19, "titleY": -6}},
         "y": {"field": "y", "type": "quantitative", "axis": null}}}
    ],
    "resolve": {"axis": {"x": "independent", "y": "independent"}}
  }
]
}
